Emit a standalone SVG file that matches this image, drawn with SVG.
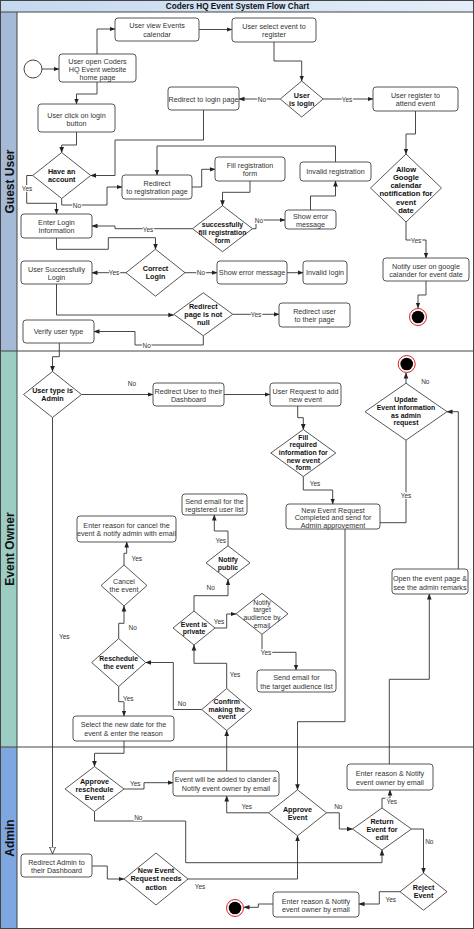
<svg xmlns="http://www.w3.org/2000/svg" width="474" height="929" viewBox="0 0 474 929">
<defs>
<linearGradient id="tg" x1="0" y1="0" x2="1" y2="0"><stop offset="0" stop-color="#c4d8ef"/><stop offset="1" stop-color="#e4eefa"/></linearGradient>
<marker id="ar" markerUnits="userSpaceOnUse" markerWidth="6" markerHeight="6" viewBox="0 0 6 6" refX="5.5" refY="3" orient="auto"><path d="M0,0.7 L6,3 L0,5.3 z" fill="#222"/></marker>
<marker id="ho" markerUnits="userSpaceOnUse" markerWidth="8" markerHeight="8" viewBox="0 0 8 8" refX="7.5" refY="4" orient="auto"><path d="M0.5,1 L7.5,4 L0.5,7 z" fill="#fff" stroke="#222" stroke-width="0.8"/></marker>
</defs>
<style>
.box{fill:#fff;stroke:#444;stroke-width:0.9}
.dia{fill:#fff;stroke:#444;stroke-width:0.9}
.t{font-family:"Liberation Sans",Arial,sans-serif;font-size:7.2px;fill:#333;text-anchor:middle;dominant-baseline:central}
.b{font-family:"Liberation Sans",Arial,sans-serif;font-size:7.2px;font-weight:bold;fill:#111;text-anchor:middle;dominant-baseline:central}
.t tspan,.b tspan{dominant-baseline:central}
.lbl{font-family:"Liberation Sans",Arial,sans-serif;font-size:6.5px;fill:#333;text-anchor:middle;dominant-baseline:central;stroke:#fff;stroke-width:2px;paint-order:stroke}
.e{fill:none;stroke:#333;stroke-width:0.9}
.lane{font-family:"Liberation Sans",Arial,sans-serif;font-size:12px;font-weight:bold;fill:#111;text-anchor:middle;dominant-baseline:central}
.sep{stroke:#444;stroke-width:1}
</style>
<rect x="0" y="0" width="474" height="929" fill="#fff"/>
<g id="lanes">
<rect x="0" y="0" width="474" height="12" fill="url(#tg)"/>
<text x="237.5" y="6.5" class="b" style="font-size:8.2px">Coders HQ Event System Flow Chart</text>
<rect x="0" y="12" width="17" height="339" fill="#a4bad6"/>
<rect x="0" y="351" width="17" height="396" fill="#9ccdc2"/>
<rect x="0" y="747" width="17" height="182" fill="#7ea6e0"/>
<text class="lane" transform="translate(9.5,181.5) rotate(-90)">Guest User</text>
<text class="lane" transform="translate(9.5,549) rotate(-90)">Event Owner</text>
<text class="lane" transform="translate(9.5,838) rotate(-90)">Admin</text>
<line class="sep" x1="0" y1="12" x2="474" y2="12"/>
<line class="sep" x1="0" y1="351" x2="474" y2="351"/>
<line class="sep" x1="0" y1="747" x2="474" y2="747"/>
<line class="sep" x1="17" y1="12" x2="17" y2="929"/>
<rect x="0.5" y="0.5" width="473" height="928" fill="none" stroke="#444" stroke-width="1"/>
</g>
<g id="connectors">
<path class="e" d="M42,69 H59" marker-end="url(#ar)"/>
<path class="e" d="M97,54 V29 H115" marker-end="url(#ar)"/>
<path class="e" d="M199,29.5 H232" marker-end="url(#ar)"/>
<path class="e" d="M274,42 V61 H301.7 V81" marker-end="url(#ar)"/>
<path class="e" d="M280.2,99 H239" marker-end="url(#ar)"/>
<path class="e" d="M323.2,99 H373" marker-end="url(#ar)"/>
<path class="e" d="M415.5,111 V134 H406 V154" marker-end="url(#ar)"/>
<path class="e" d="M406,222 V240 H426 V258" marker-end="url(#ar)"/>
<path class="e" d="M426,281 V295 H418 V308" marker-end="url(#ar)"/>
<path class="e" d="M97,82 V94 H76.5 V104" marker-end="url(#ar)"/>
<path class="e" d="M76.5,132 V145 H61.7 V152.5" marker-end="url(#ar)"/>
<path class="e" d="M203.5,110 V140 H115 V175.5 H90.7" marker-end="url(#ar)"/>
<path class="e" d="M335.5,162 V146 H157 V175" marker-end="url(#ar)"/>
<path class="e" d="M61.7,198.5 V205 H107 V187 H122" marker-end="url(#ar)"/>
<path class="e" d="M32.7,175.5 H26.7 V203.3 H56.5 V214" marker-end="url(#ar)"/>
<path class="e" d="M192,187 H201.7 V169.3 H215" marker-end="url(#ar)"/>
<path class="e" d="M250,181 V192.3 H222.5 V205.7" marker-end="url(#ar)"/>
<path class="e" d="M252.5,228.7 H256 V220 H285" marker-end="url(#ar)"/>
<path class="e" d="M310.5,210 V196 H335.5 V181" marker-end="url(#ar)"/>
<path class="e" d="M192.5,228.7 H115 V226 H92" marker-end="url(#ar)"/>
<path class="e" d="M56.5,238 V249.3 H108.3 V237.7 H155.5 V249.2" marker-end="url(#ar)"/>
<path class="e" d="M126,272.7 H92" marker-end="url(#ar)"/>
<path class="e" d="M185,272.7 H217" marker-end="url(#ar)"/>
<path class="e" d="M287,272.7 H303" marker-end="url(#ar)"/>
<path class="e" d="M56.5,284 V315 H173.8" marker-end="url(#ar)"/>
<path class="e" d="M232.8,314.3 H279" marker-end="url(#ar)"/>
<path class="e" d="M203.3,335.8 V345 H135 V331.5 H94" marker-end="url(#ar)"/>
<path class="e" d="M59.3,343 V356.7 H52.5 V371.5" marker-end="url(#ar)"/>
<path class="e" d="M81.5,394.5 H153" marker-end="url(#ar)"/>
<path class="e" d="M224,394.5 H270" marker-end="url(#ar)"/>
<path class="e" d="M297.7,406 V417.7 H303.3 V429.5" marker-end="url(#ar)"/>
<path class="e" d="M303.3,476.5 V490 H332.7 V504" marker-end="url(#ar)"/>
<path class="e" d="M380,522.7 H406 V440.2"/>
<path class="e" d="M406,383.2 V373" marker-end="url(#ar)"/>
<path class="e" d="M458.3,569 V411.7 H447" marker-end="url(#ar)"/>
<path class="e" d="M389.3,764 V679.3 H429.3 V594" marker-end="url(#ar)"/>
<path class="e" d="M345,529 V721.7 H297.5 V789.8" marker-end="url(#ar)"/>
<path class="e" d="M228,545.8 V531 H214.3 V515" marker-end="url(#ar)"/>
<path class="e" d="M194,611 V595.7 H228 V579.8" marker-end="url(#ar)"/>
<path class="e" d="M215,628 H226.7 V614 H236" marker-end="url(#ar)"/>
<path class="e" d="M262,634.3 V652.3 H296 V670" marker-end="url(#ar)"/>
<path class="e" d="M226.7,688.5 V663.3 H194 V645" marker-end="url(#ar)"/>
<path class="e" d="M201.7,709.5 H173.3 V662.5 H145.7" marker-end="url(#ar)"/>
<path class="e" d="M118.7,638.5 V623.3 H124 V606" marker-end="url(#ar)"/>
<path class="e" d="M124,565 V553.3 H126.7 V542" marker-end="url(#ar)"/>
<path class="e" d="M118.7,686.5 V701.7 H124 V716" marker-end="url(#ar)"/>
<path class="e" d="M124,741 V753.3 H94.5 V766.5" marker-end="url(#ar)"/>
<path class="e" d="M226.7,771 V730.5" marker-end="url(#ar)"/>
<path class="e" d="M124,789 H144 V782.7 H173" marker-end="url(#ar)"/>
<path class="e" d="M94.5,811.5 V821 H185.7 V862.7 H382 V850" marker-end="url(#ar)"/>
<path class="e" d="M52.5,417.5 V854" marker-end="url(#ho)"/>
<path class="e" d="M92,866 H107.3 V879 H124" marker-end="url(#ar)"/>
<path class="e" d="M188,879 H297.5 V835.8" marker-end="url(#ar)"/>
<path class="e" d="M268.5,812.8 H226.7 V796" marker-end="url(#ar)"/>
<path class="e" d="M326.5,812.8 H339.3 V829 H352.5" marker-end="url(#ar)"/>
<path class="e" d="M382,808 V798.3 H390 V790" marker-end="url(#ar)"/>
<path class="e" d="M411.5,829 H423.5 V873.2" marker-end="url(#ar)"/>
<path class="e" d="M400.5,891.7 H379.3 V904 H359" marker-end="url(#ar)"/>
<path class="e" d="M273,904 H258.3 V907.3 H244" marker-end="url(#ar)"/>
<text class="lbl" x="262" y="99">No</text>
<text class="lbl" x="347" y="99">Yes</text>
<text class="lbl" x="416" y="240">Yes</text>
<text class="lbl" x="77" y="205">No</text>
<text class="lbl" x="27" y="188">Yes</text>
<text class="lbl" x="259" y="220">No</text>
<text class="lbl" x="148" y="229">Yes</text>
<text class="lbl" x="114" y="272.7">Yes</text>
<text class="lbl" x="201" y="272.7">No</text>
<text class="lbl" x="256" y="314.3">Yes</text>
<text class="lbl" x="146.7" y="345">No</text>
<text class="lbl" x="132" y="383.3">No</text>
<text class="lbl" x="315" y="483.3">Yes</text>
<text class="lbl" x="406" y="495">Yes</text>
<text class="lbl" x="425.3" y="381.7">No</text>
<text class="lbl" x="220.7" y="540">Yes</text>
<text class="lbl" x="210.7" y="587.7">No</text>
<text class="lbl" x="219" y="621.5">Yes</text>
<text class="lbl" x="266" y="652.3">Yes</text>
<text class="lbl" x="235" y="674.3">Yes</text>
<text class="lbl" x="182" y="703">No</text>
<text class="lbl" x="132.7" y="627.7">No</text>
<text class="lbl" x="136.7" y="558.3">Yes</text>
<text class="lbl" x="128.3" y="698.3">Yes</text>
<text class="lbl" x="135.3" y="783">Yes</text>
<text class="lbl" x="138.3" y="817.3">No</text>
<text class="lbl" x="64.3" y="636">Yes</text>
<text class="lbl" x="200" y="886.7">Yes</text>
<text class="lbl" x="246.7" y="806.7">Yes</text>
<text class="lbl" x="338.3" y="806.7">No</text>
<text class="lbl" x="391.7" y="801.7">Yes</text>
<text class="lbl" x="429.3" y="841.7">No</text>
<text class="lbl" x="390.7" y="899">Yes</text>
</g>
<g id="start"><circle cx="33" cy="69" r="9" fill="#fff" stroke="#444" stroke-width="1"/></g>
<g id="n_home"><rect class="box" x="59" y="54" width="77" height="28" rx="3"/><text class="t"><tspan x="97.5" y="61">User open Coders</tspan><tspan x="97.5" y="69">HQ Event website</tspan><tspan x="97.5" y="77.3">home page</tspan></text></g>
<g id="n_view"><rect class="box" x="115" y="18" width="84" height="23" rx="3"/><text class="t"><tspan x="157" y="25.3">User view Events</tspan><tspan x="157" y="33.7">calendar</tspan></text></g>
<g id="n_select"><rect class="box" x="232" y="18" width="84" height="24" rx="3"/><text class="t"><tspan x="274" y="25.7">User select event to</tspan><tspan x="274" y="33.7">register</tspan></text></g>
<g id="d_login"><polygon class="dia" points="301.7,81 323.2,99 301.7,117 280.2,99"/><text class="b"><tspan x="301.7" y="94.5">User</tspan><tspan x="301.7" y="102.5">is login</tspan></text></g>
<g id="n_redir_login"><rect class="box" x="168" y="87" width="71" height="23" rx="3"/><text class="t" x="203.5" y="99">Redirect to login page</text></g>
<g id="n_register"><rect class="box" x="373" y="87" width="85" height="24" rx="3"/><text class="t"><tspan x="415.5" y="95">User register to</tspan><tspan x="415.5" y="103">attend event</tspan></text></g>
<g id="d_allow"><polygon class="dia" points="406,154 441.5,188 406,222 370.5,188"/><text class="b" style="font-size:7.6px"><tspan x="406" y="169">Allow</tspan><tspan x="406" y="177">Google</tspan><tspan x="406" y="185">calendar</tspan><tspan x="406" y="193.3">notification for</tspan><tspan x="406" y="201.5">event</tspan><tspan x="406" y="209.5">date</tspan></text></g>
<g id="n_notify_google"><rect class="box" x="383" y="258" width="86" height="23" rx="3"/><text class="t"><tspan x="426" y="265.7">Notify user on google</tspan><tspan x="426" y="273.7">calander for event date</tspan></text></g>
<g id="end_guest"><circle cx="418" cy="317" r="8.5" fill="#fff" stroke="#e02020" stroke-width="1"/><circle cx="418" cy="317" r="6.3" fill="#000"/></g>
<g id="n_click"><rect class="box" x="38" y="104" width="77" height="28" rx="3"/><text class="t"><tspan x="76.5" y="115">User click on login</tspan><tspan x="76.5" y="123">button</tspan></text></g>
<g id="d_account"><polygon class="dia" points="61.7,152.5 90.7,175.5 61.7,198.5 32.7,175.5"/><text class="b"><tspan x="61.7" y="170.5">Have an</tspan><tspan x="61.7" y="178.5">account</tspan></text></g>
<g id="n_redir_reg"><rect class="box" x="122" y="175" width="70" height="24" rx="3"/><text class="t"><tspan x="157" y="183">Redirect</tspan><tspan x="157" y="191">to registration page</tspan></text></g>
<g id="n_invalid_reg"><rect class="box" x="300" y="162" width="71" height="19" rx="3"/><text class="t" x="335.5" y="171.5">Invalid registration</text></g>
<g id="n_fill_reg"><rect class="box" x="215" y="157" width="70" height="24" rx="3"/><text class="t"><tspan x="250" y="165">Fill registration</tspan><tspan x="250" y="173.3">form</tspan></text></g>
<g id="d_success"><polygon class="dia" points="222.5,205.7 252.5,228.7 222.5,251.7 192.5,228.7"/><text class="b" style="font-size:6.9px"><tspan x="222.5" y="223.5">successfully</tspan><tspan x="222.5" y="231.5">fill registration</tspan><tspan x="222.5" y="239.5">form</tspan></text></g>
<g id="n_show_err1"><rect class="box" x="285" y="210" width="51" height="19" rx="3"/><text class="t"><tspan x="310.5" y="216">Show error</tspan><tspan x="310.5" y="224">message</tspan></text></g>
<g id="n_enter_login"><rect class="box" x="21" y="214" width="71" height="24" rx="3"/><text class="t"><tspan x="56.5" y="222">Enter Login</tspan><tspan x="56.5" y="230">Information</tspan></text></g>
<g id="d_correct"><polygon class="dia" points="155.5,249.2 185,272.7 155.5,296.2 126,272.7"/><text class="b"><tspan x="155.5" y="268">Correct</tspan><tspan x="155.5" y="276">Login</tspan></text></g>
<g id="n_success_login"><rect class="box" x="21" y="261" width="71" height="23" rx="3"/><text class="t"><tspan x="56.5" y="268.7">User Successfully</tspan><tspan x="56.5" y="277">Login</tspan></text></g>
<g id="n_show_err2"><rect class="box" x="217" y="261" width="70" height="23" rx="3"/><text class="t" x="252" y="272.7">Show error message</text></g>
<g id="n_invalid_login"><rect class="box" x="303" y="261" width="44" height="23" rx="3"/><text class="t" x="325" y="272.7">Invalid login</text></g>
<g id="d_redirect_page"><polygon class="dia" points="203.3,292.8 232.8,314.3 203.3,335.8 173.8,314.3"/><text class="b"><tspan x="203.3" y="306">Redirect</tspan><tspan x="203.3" y="314">page is not</tspan><tspan x="203.3" y="322">null</tspan></text></g>
<g id="n_redirect_user"><rect class="box" x="279" y="303" width="71" height="24" rx="3"/><text class="t"><tspan x="314.5" y="310.5">Redirect user</tspan><tspan x="314.5" y="318.7">to their page</tspan></text></g>
<g id="n_verify"><rect class="box" x="23" y="320" width="71" height="23" rx="3"/><text class="t" x="58.5" y="331.5">Verify user type</text></g>
<g id="d_admin"><polygon class="dia" points="52.5,371.5 81.5,394.5 52.5,417.5 23.5,394.5"/><text class="b"><tspan x="52.5" y="390">User type is</tspan><tspan x="52.5" y="398">Admin</tspan></text></g>
<g id="n_redir_dash"><rect class="box" x="153" y="383" width="71" height="23" rx="3"/><text class="t"><tspan x="188.5" y="390.7">Redirect User to their</tspan><tspan x="188.5" y="398.7">Dashboard</tspan></text></g>
<g id="n_request"><rect class="box" x="270" y="383" width="71" height="23" rx="3"/><text class="t"><tspan x="305.5" y="390.7">User Request to add</tspan><tspan x="305.5" y="398.7">new event</tspan></text></g>
<g id="d_fill_req"><polygon class="dia" points="303.3,429.5 335.8,453 303.3,476.5 270.8,453"/><text class="b" style="font-size:6.9px"><tspan x="303.3" y="436.7">Fill</tspan><tspan x="303.3" y="444.3">required</tspan><tspan x="303.3" y="452">information for</tspan><tspan x="303.3" y="459.7">new event</tspan><tspan x="303.3" y="467.3">form</tspan></text></g>
<g id="n_new_req"><rect class="box" x="286" y="504" width="94" height="25" rx="3"/><text class="t"><tspan x="333" y="509.5">New Event Request</tspan><tspan x="333" y="517.3">Completed and send for</tspan><tspan x="333" y="525.2">Admin approvement</tspan></text></g>
<g id="d_update"><polygon class="dia" points="406,383.2 447,411.7 406,440.2 365,411.7"/><text class="b" style="font-size:6.9px"><tspan x="406" y="399.3">Update</tspan><tspan x="406" y="407">Event information</tspan><tspan x="406" y="414.7">as admin</tspan><tspan x="406" y="422.3">request</tspan></text></g>
<g id="end_owner"><circle cx="406.7" cy="364" r="8.5" fill="#fff" stroke="#e02020" stroke-width="1"/><circle cx="406.7" cy="364" r="6.3" fill="#000"/></g>
<g id="n_open_page"><rect class="box" x="392" y="569" width="76" height="25" rx="3"/><text class="t"><tspan x="430" y="578.3">Open the event page &amp;</tspan><tspan x="430" y="586.7">see the admin remarks</tspan></text></g>
<g id="n_send_reg"><rect class="box" x="182" y="494" width="65" height="21" rx="3"/><text class="t"><tspan x="214.5" y="500.7">Send email for the</tspan><tspan x="214.5" y="509.3">registered user list</tspan></text></g>
<g id="d_notify_public"><polygon class="dia" points="228,545.8 250,562.8 228,579.8 206,562.8"/><text class="b" style="font-size:6.9px"><tspan x="228" y="559">Notify</tspan><tspan x="228" y="566.5">public</tspan></text></g>
<g id="d_private"><polygon class="dia" points="194,611 215,628 194,645 173,628"/><text class="b" style="font-size:6.9px"><tspan x="194" y="623.5">Event is</tspan><tspan x="194" y="631">private</tspan></text></g>
<g id="d_target"><polygon class="dia" points="262,593.3 288,613.8 262,634.3 236,613.8"/><text class="t" style="font-size:6.9px"><tspan x="262" y="601.7">Notify</tspan><tspan x="262" y="609.3">target</tspan><tspan x="262" y="617">audience by</tspan><tspan x="262" y="624.7">email</tspan></text></g>
<g id="n_send_target"><rect class="box" x="257" y="670" width="79" height="22" rx="3"/><text class="t"><tspan x="296.5" y="677.3">Send email for</tspan><tspan x="296.5" y="685.7">the target audience list</tspan></text></g>
<g id="d_confirm"><polygon class="dia" points="226.7,688.5 251.7,709.5 226.7,730.5 201.7,709.5"/><text class="b" style="font-size:6.9px"><tspan x="226.7" y="700.7">Confirm</tspan><tspan x="226.7" y="708.7">making the</tspan><tspan x="226.7" y="716.3">event</tspan></text></g>
<g id="d_reschedule"><polygon class="dia" points="118.7,638.5 145.7,662.5 118.7,686.5 91.7,662.5"/><text class="b" style="font-size:6.9px"><tspan x="118.7" y="658.3">Reschedule</tspan><tspan x="118.7" y="666">the event</tspan></text></g>
<g id="d_cancel"><polygon class="dia" points="124,565 147,585.5 124,606 101,585.5"/><text class="t" style="font-size:7px"><tspan x="124" y="581">Cancel</tspan><tspan x="124" y="588.5">the event</tspan></text></g>
<g id="n_cancel_reason"><rect class="box" x="77" y="516" width="99" height="26" rx="3"/><text class="t"><tspan x="126.5" y="525">Enter reason for cancel the</tspan><tspan x="126.5" y="533.3">event &amp; notify admin with email</tspan></text></g>
<g id="n_select_date"><rect class="box" x="73" y="716" width="101" height="25" rx="3"/><text class="t"><tspan x="123.5" y="724.3">Select the new date for the</tspan><tspan x="123.5" y="732.7">event &amp; enter the reason</tspan></text></g>
<g id="d_approve_res"><polygon class="dia" points="94.5,766.5 124,789 94.5,811.5 65,789"/><text class="b"><tspan x="94.5" y="780.7">Approve</tspan><tspan x="94.5" y="788.7">reschedule</tspan><tspan x="94.5" y="796.7">Event</tspan></text></g>
<g id="n_added"><rect class="box" x="173" y="771" width="106" height="25" rx="3"/><text class="t"><tspan x="226" y="779.3">Event will be added to clander &amp;</tspan><tspan x="226" y="787.7">Notify event owner by email</tspan></text></g>
<g id="d_approve"><polygon class="dia" points="297.5,789.8 326.5,812.8 297.5,835.8 268.5,812.8"/><text class="b"><tspan x="297.5" y="808.5">Approve</tspan><tspan x="297.5" y="816.5">Event</tspan></text></g>
<g id="n_reason_top"><rect class="box" x="347" y="764" width="86" height="26" rx="3"/><text class="t"><tspan x="390" y="773.3">Enter reason &amp; Notify</tspan><tspan x="390" y="781.7">event owner by email</tspan></text></g>
<g id="d_return"><polygon class="dia" points="382,808 411.5,829 382,850 352.5,829"/><text class="b"><tspan x="382" y="820.5">Return</tspan><tspan x="382" y="828.5">Event for</tspan><tspan x="382" y="836.7">edit</tspan></text></g>
<g id="d_reject"><polygon class="dia" points="423.5,873.2 447,891.7 423.5,910.2 400,891.7"/><text class="b"><tspan x="423.5" y="887">Reject</tspan><tspan x="423.5" y="895">Event</tspan></text></g>
<g id="n_reason_bottom"><rect class="box" x="273" y="892" width="86" height="25" rx="3"/><text class="t"><tspan x="316" y="900.7">Enter reason &amp; Notify</tspan><tspan x="316" y="909">event owner by email</tspan></text></g>
<g id="end_admin"><circle cx="235" cy="908" r="8.5" fill="#fff" stroke="#e02020" stroke-width="1"/><circle cx="235" cy="908" r="6.3" fill="#000"/></g>
<g id="n_redir_admin"><rect class="box" x="21" y="854" width="71" height="23" rx="3"/><text class="t"><tspan x="56.5" y="861.7">Redirect Admin to</tspan><tspan x="56.5" y="870">their Dashboard</tspan></text></g>
<g id="d_needs_action"><polygon class="dia" points="156,853 188,879 156,905 124,879"/><text class="b"><tspan x="156" y="870">New Event</tspan><tspan x="156" y="878.3">Request needs</tspan><tspan x="156" y="886.7">action</tspan></text></g>
</svg>
